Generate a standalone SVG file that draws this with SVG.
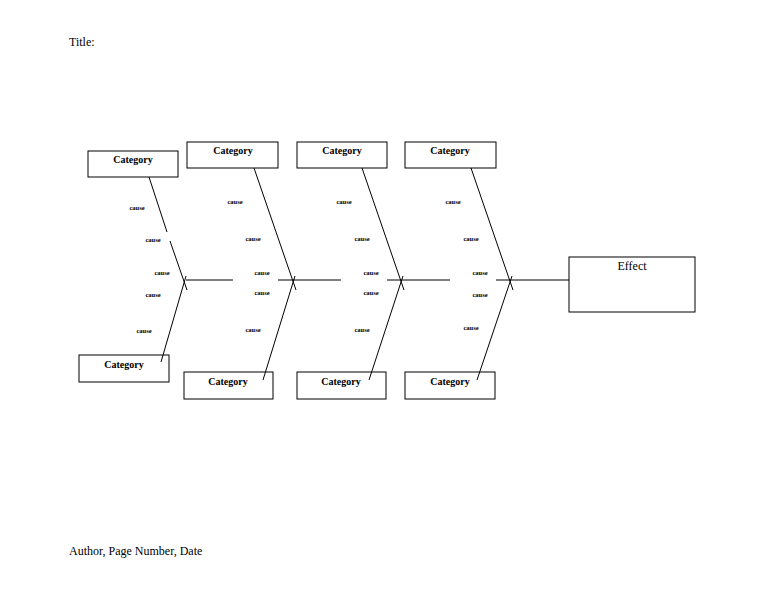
<svg xmlns="http://www.w3.org/2000/svg" width="768" height="594" viewBox="0 0 768 594">
<style>
.b{fill:#fff;stroke:#000;stroke-width:1}
.t{font-family:"Liberation Serif",serif;font-size:10px;font-weight:bold;text-anchor:middle}
.c{font-family:"Liberation Serif",serif;font-size:6.5px;font-weight:bold;text-anchor:middle}
.p{font-family:"Liberation Serif",serif;font-size:12px}
#conn line{stroke:#000;stroke-width:1}
</style>
<rect width="768" height="594" fill="#fff"/>
<text class="p" x="69" y="46">Title:</text>
<text class="p" x="69" y="555">Author, Page Number, Date</text>
<g id="n1"><rect class="b" x="88" y="151" width="90" height="26"/><text class="t" x="133" y="163">Category</text></g>
<g id="n2"><rect class="b" x="187" y="142" width="91" height="26"/><text class="t" x="233" y="154">Category</text></g>
<g id="n3"><rect class="b" x="297" y="142" width="90" height="26"/><text class="t" x="342" y="154">Category</text></g>
<g id="n4"><rect class="b" x="405" y="142" width="91" height="26"/><text class="t" x="450" y="154">Category</text></g>
<g id="n5"><rect class="b" x="79" y="355" width="90" height="27"/><text class="t" x="124" y="368">Category</text></g>
<g id="n6"><rect class="b" x="184" y="372" width="89" height="27"/><text class="t" x="228" y="385">Category</text></g>
<g id="n7"><rect class="b" x="297" y="372" width="89" height="27"/><text class="t" x="341" y="385">Category</text></g>
<g id="n8"><rect class="b" x="405" y="372" width="90" height="27"/><text class="t" x="450" y="385">Category</text></g>
<g id="effect"><rect class="b" x="569" y="257" width="126" height="55"/><text class="p" x="632" y="270" text-anchor="middle" font-size="10">Effect</text></g>
<g id="conn">
<line x1="186" y1="280" x2="233" y2="280"/>
<line x1="278" y1="280" x2="341" y2="280"/>
<line x1="387" y1="280" x2="450" y2="280"/>
<line x1="496" y1="280" x2="569" y2="280"/>
<line x1="149" y1="177" x2="167" y2="232"/>
<line x1="170" y1="241" x2="187" y2="290"/>
<line x1="186" y1="276" x2="161" y2="362"/>
<line x1="254" y1="168" x2="296" y2="290"/>
<line x1="295" y1="276" x2="263" y2="380"/>
<line x1="362" y1="168" x2="404" y2="290"/>
<line x1="403" y1="276" x2="369" y2="380"/>
<line x1="471" y1="168" x2="513" y2="290"/>
<line x1="512" y1="276" x2="477" y2="380"/>
</g>
<g id="causes">
<text class="c" x="137" y="210">cause</text><text class="c" x="153" y="242">cause</text><text class="c" x="162" y="275">cause</text><text class="c" x="153" y="297">cause</text><text class="c" x="144" y="333">cause</text>
<text class="c" x="235" y="204">cause</text><text class="c" x="253" y="241">cause</text><text class="c" x="262" y="275">cause</text><text class="c" x="262" y="295">cause</text><text class="c" x="253" y="332">cause</text>
<text class="c" x="344" y="204">cause</text><text class="c" x="362" y="241">cause</text><text class="c" x="371" y="275">cause</text><text class="c" x="371" y="295">cause</text><text class="c" x="362" y="332">cause</text>
<text class="c" x="453" y="204">cause</text><text class="c" x="471" y="241">cause</text><text class="c" x="480" y="275">cause</text><text class="c" x="480" y="297">cause</text><text class="c" x="471" y="330">cause</text>
</g>
</svg>
